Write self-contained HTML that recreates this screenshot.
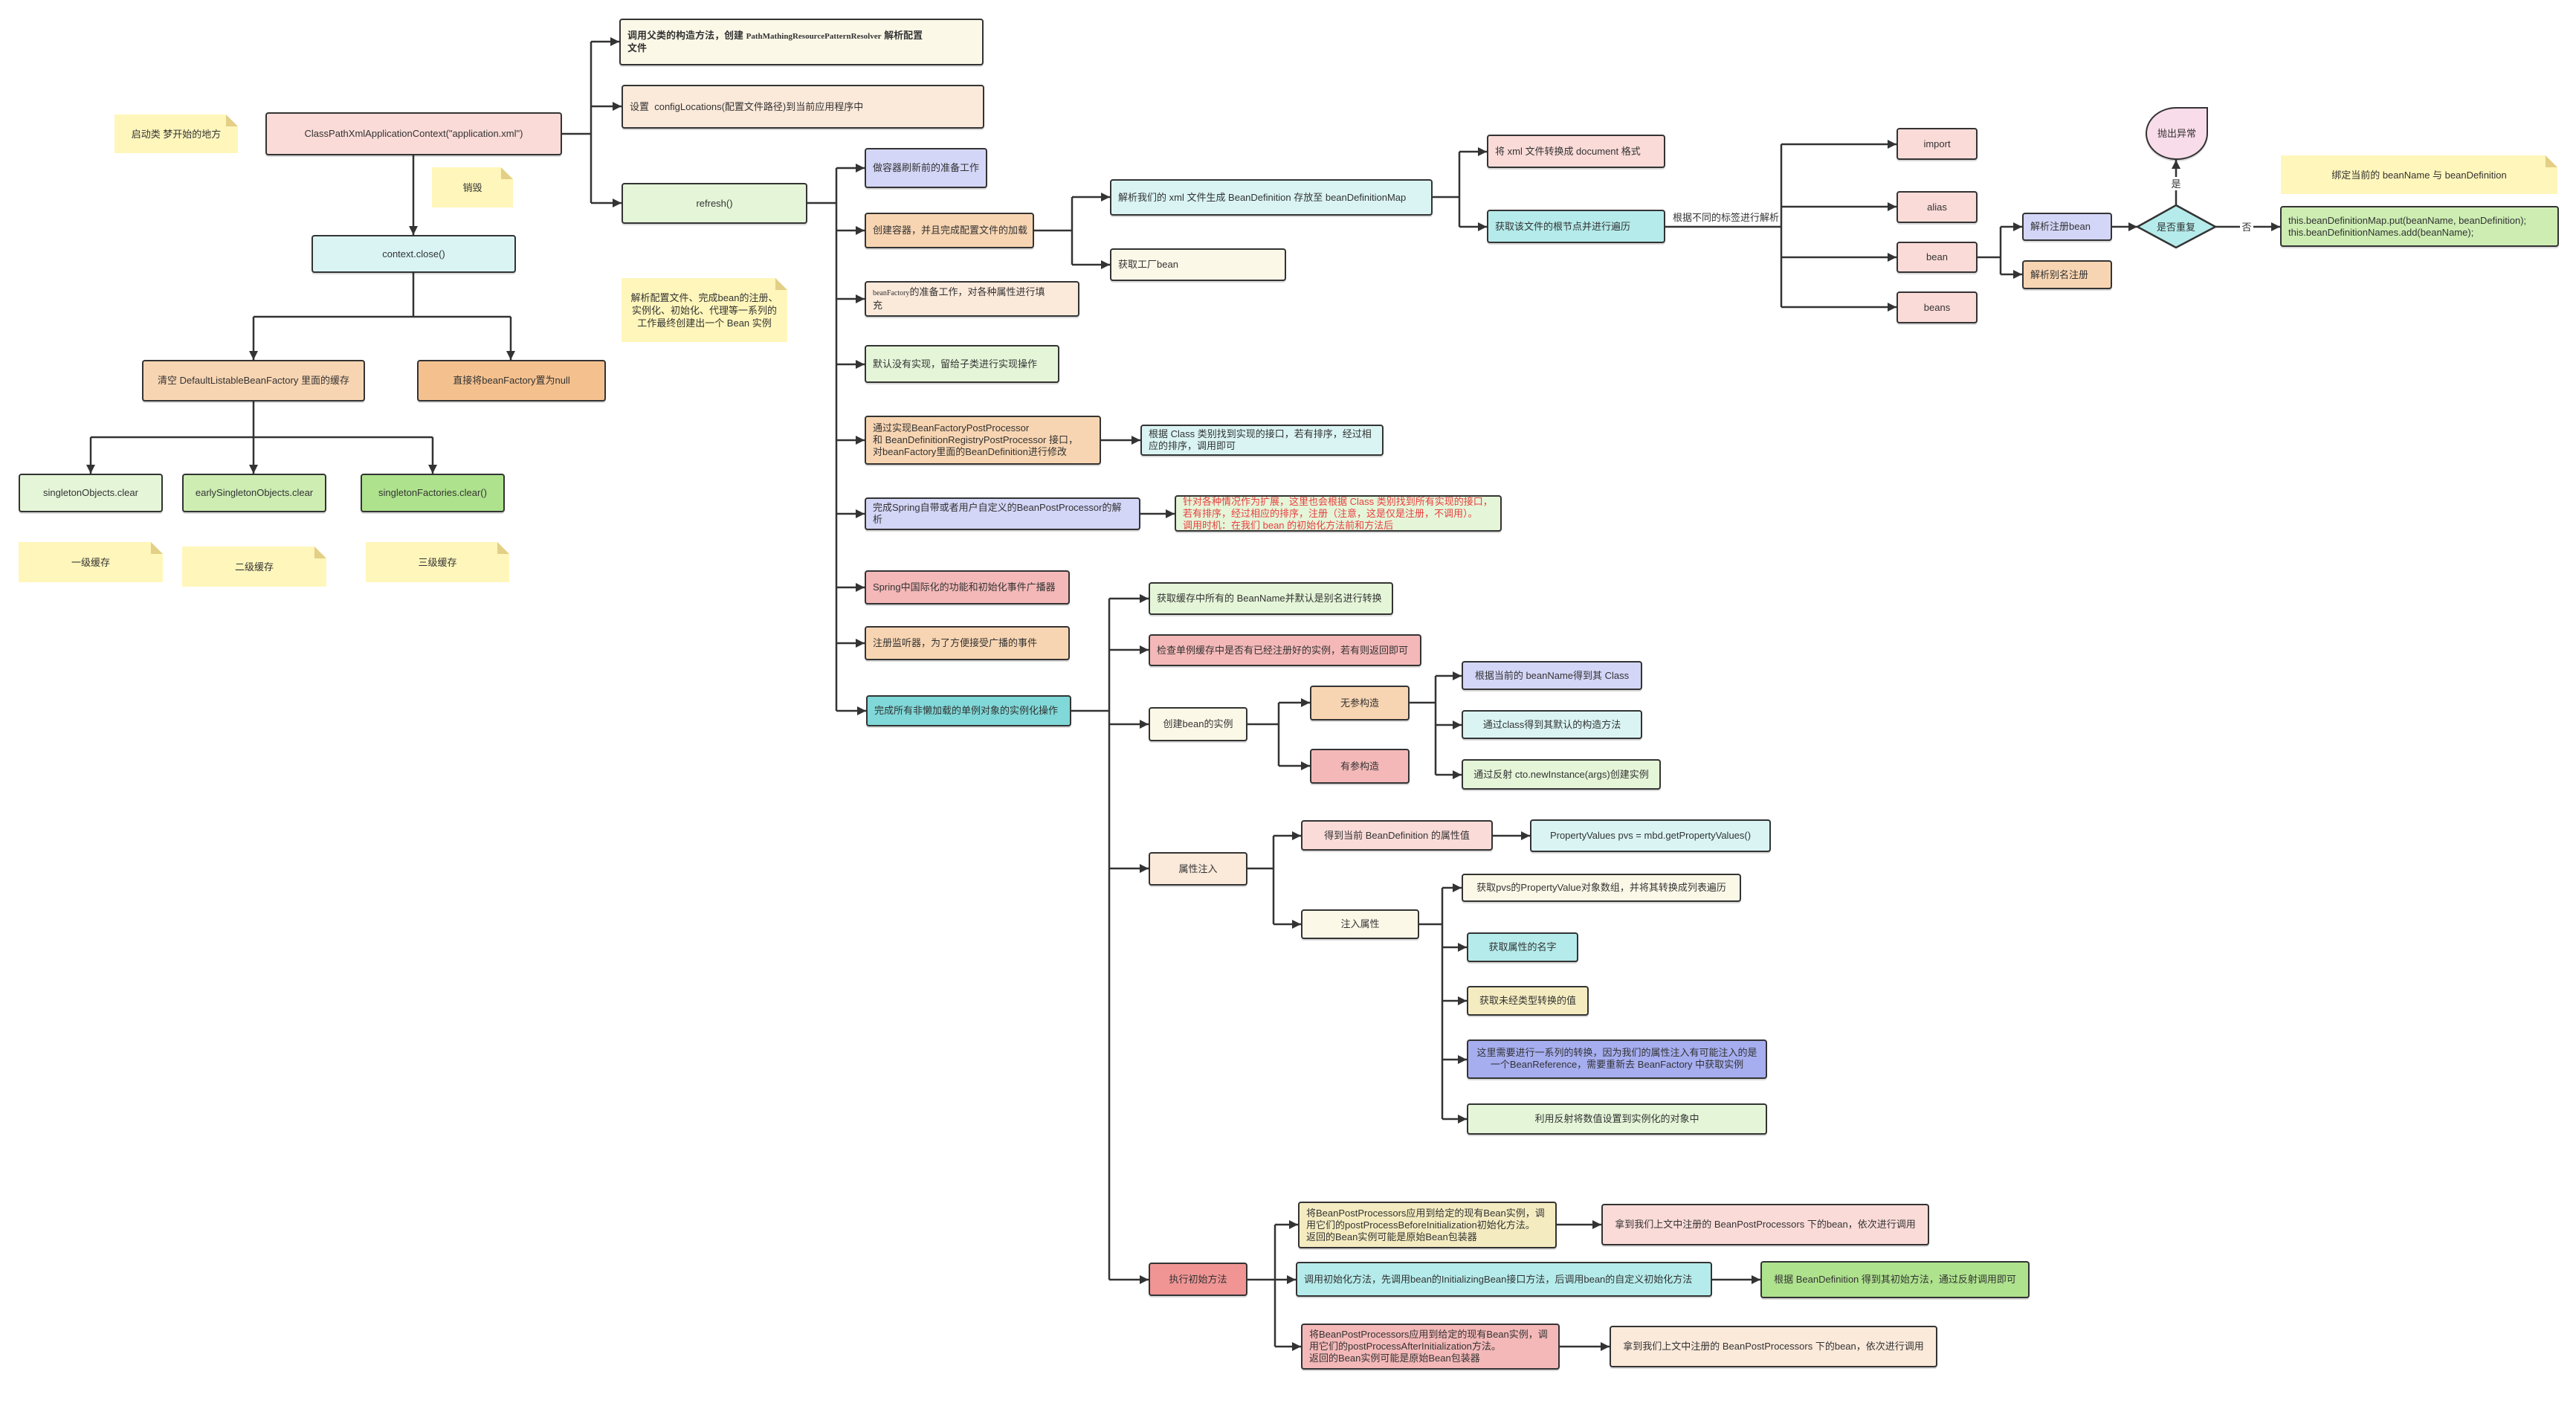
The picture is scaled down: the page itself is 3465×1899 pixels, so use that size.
<!DOCTYPE html>
<html><head><meta charset="utf-8"><style>
body{margin:0;width:3465px;height:1899px;background:#fff;position:relative;overflow:hidden;font-family:"Liberation Sans","Noto Sans CJK SC",sans-serif}
.b{position:absolute;box-sizing:border-box;border:2px solid #333;border-radius:4px;display:flex;align-items:center;font-size:13px;color:#333;padding:0 9px;line-height:16px;box-shadow:0 2px 0 rgba(0,0,0,.15);white-space:nowrap}
.c{justify-content:center;text-align:center}
.n{position:absolute;box-sizing:border-box;background:#fff6bb;display:flex;align-items:center;justify-content:center;text-align:center;font-size:13px;color:#333;line-height:17px}
.n:after{content:"";position:absolute;right:0;top:0;border-style:solid;border-width:0 16px 16px 0;border-color:#fff #fff #e3cf85 #e3cf85}
.t{position:absolute;font-size:13px;color:#333;white-space:nowrap}
svg{position:absolute;left:0;top:0}
</style></head><body>
<svg width="3465" height="1899">
<defs><marker id="a" markerUnits="userSpaceOnUse" markerWidth="14" markerHeight="14" refX="12" refY="7" orient="auto"><path d="M0,1 L12,7 L0,13 Z" fill="#333"/></marker></defs>
<g stroke="#333" stroke-width="2.5" fill="none">
<path d="M756,180H795M795,56V273"/>
<path d="M795,56H833" marker-end="url(#a)"/><path d="M795,143H836" marker-end="url(#a)"/><path d="M795,273H836" marker-end="url(#a)"/>
<path d="M556,209V316" marker-end="url(#a)"/>
<path d="M556,367V426M341,426H687"/><path d="M341,426V484" marker-end="url(#a)"/><path d="M687,426V484" marker-end="url(#a)"/>
<path d="M341,540V588M122,588H582"/><path d="M122,588V637" marker-end="url(#a)"/><path d="M341,588V637" marker-end="url(#a)"/><path d="M582,588V637" marker-end="url(#a)"/>
<path d="M1086,273H1125M1125,226V956"/>
<path d="M1125,226H1163" marker-end="url(#a)"/><path d="M1125,310H1163" marker-end="url(#a)"/><path d="M1125,402H1163" marker-end="url(#a)"/><path d="M1125,490H1163" marker-end="url(#a)"/><path d="M1125,592H1163" marker-end="url(#a)"/><path d="M1125,691H1163" marker-end="url(#a)"/><path d="M1125,790H1163" marker-end="url(#a)"/><path d="M1125,865H1163" marker-end="url(#a)"/><path d="M1125,956H1165" marker-end="url(#a)"/>
<path d="M1391,310H1442M1442,265V356"/><path d="M1442,265H1493" marker-end="url(#a)"/><path d="M1442,356H1493" marker-end="url(#a)"/>
<path d="M1481,592H1534" marker-end="url(#a)"/><path d="M1534,691H1580" marker-end="url(#a)"/>
<path d="M1441,956H1492M1492,805V1721"/>
<path d="M1492,805H1545" marker-end="url(#a)"/><path d="M1492,874H1545" marker-end="url(#a)"/><path d="M1492,974H1545" marker-end="url(#a)"/><path d="M1492,1168H1545" marker-end="url(#a)"/><path d="M1492,1721H1545" marker-end="url(#a)"/>
<path d="M1927,265H1963M1963,204V305"/><path d="M1963,204H2000" marker-end="url(#a)"/><path d="M1963,305H2000" marker-end="url(#a)"/>
<path d="M2240,305H2396M2396,194V413"/><path d="M2396,194H2551" marker-end="url(#a)"/><path d="M2396,278H2551" marker-end="url(#a)"/><path d="M2396,346H2551" marker-end="url(#a)"/><path d="M2396,413H2551" marker-end="url(#a)"/>
<path d="M2660,346H2691M2691,305V369"/><path d="M2691,305H2720" marker-end="url(#a)"/><path d="M2691,369H2720" marker-end="url(#a)"/>
<path d="M2841,305H2875" marker-end="url(#a)"/>
<path d="M2927,276V215" marker-end="url(#a)"/>
<path d="M2980,305H3067" marker-end="url(#a)"/>
<path d="M1678,974H1720M1720,945V1030"/><path d="M1720,945H1762" marker-end="url(#a)"/><path d="M1720,1030H1762" marker-end="url(#a)"/>
<path d="M1896,945H1931M1931,909V1042"/><path d="M1931,909H1966" marker-end="url(#a)"/><path d="M1931,975H1966" marker-end="url(#a)"/><path d="M1931,1042H1966" marker-end="url(#a)"/>
<path d="M1678,1168H1713M1713,1124V1243"/><path d="M1713,1124H1750" marker-end="url(#a)"/><path d="M1713,1243H1750" marker-end="url(#a)"/>
<path d="M2008,1124H2058" marker-end="url(#a)"/>
<path d="M1909,1243H1940M1940,1194V1505"/><path d="M1940,1194H1966" marker-end="url(#a)"/><path d="M1940,1274H1973" marker-end="url(#a)"/><path d="M1940,1346H1973" marker-end="url(#a)"/><path d="M1940,1425H1973" marker-end="url(#a)"/><path d="M1940,1505H1973" marker-end="url(#a)"/>
<path d="M1678,1721H1715M1715,1647V1811"/><path d="M1715,1647H1746" marker-end="url(#a)"/><path d="M1715,1721H1743" marker-end="url(#a)"/><path d="M1715,1811H1750" marker-end="url(#a)"/>
<path d="M2094,1647H2154" marker-end="url(#a)"/><path d="M2303,1721H2368" marker-end="url(#a)"/><path d="M2098,1811H2165" marker-end="url(#a)"/>
</g>
<polygon points="2927,276 2980,305 2927,333 2875,305" fill="#b5ebeb" stroke="#333" stroke-width="2.5"/>
<text x="2927" y="310" font-size="13" text-anchor="middle" fill="#333" font-family="Liberation Sans, Noto Sans CJK SC, sans-serif">是否重复</text>
<rect x="2918" y="238" width="18" height="18" fill="#fff"/>
<text x="2927" y="252" font-size="13" text-anchor="middle" fill="#333" font-family="Liberation Sans, Noto Sans CJK SC, sans-serif">是</text>
<rect x="3013" y="296" width="18" height="18" fill="#fff"/>
<text x="3022" y="310" font-size="13" text-anchor="middle" fill="#333" font-family="Liberation Sans, Noto Sans CJK SC, sans-serif">否</text>
</svg>

<div class="n" style="left:154px;top:154px;width:166px;height:52px">启动类 梦开始的地方</div>
<div class="b c" style="left:357px;top:151px;width:399px;height:58px;background:#fadbd8">ClassPathXmlApplicationContext("application.xml")</div>
<div class="n" style="left:581px;top:225px;width:109px;height:54px">销毁</div>
<div class="b c" style="left:419px;top:316px;width:275px;height:51px;background:#daf4f4">context.close()</div>
<div class="b c" style="left:191px;top:484px;width:300px;height:56px;background:#f8d5b2">清空 DefaultListableBeanFactory 里面的缓存</div>
<div class="b c" style="left:561px;top:484px;width:254px;height:56px;background:#f4c18e">直接将beanFactory置为null</div>
<div class="b c" style="left:25px;top:637px;width:194px;height:52px;background:#e5f5d8">singletonObjects.clear</div>
<div class="b c" style="left:245px;top:637px;width:194px;height:52px;background:#cdedb3">earlySingletonObjects.clear</div>
<div class="b c" style="left:485px;top:637px;width:194px;height:52px;background:#aee28d">singletonFactories.clear()</div>
<div class="n" style="left:25px;top:729px;width:194px;height:54px">一级缓存</div>
<div class="n" style="left:245px;top:735px;width:194px;height:54px">二级缓存</div>
<div class="n" style="left:492px;top:729px;width:193px;height:54px">三级缓存</div>

<div class="b" style="left:833px;top:25px;width:490px;height:63px;background:#fcf8e8;font-weight:bold"><span>调用父类的构造方法，创建 <span style="font-family:'Liberation Serif',serif;font-size:11px">PathMathingResourcePatternResolver</span> 解析配置<br>文件</span></div>
<div class="b" style="left:836px;top:114px;width:488px;height:59px;background:#fbe9da">设置 &nbsp;configLocations(配置文件路径)到当前应用程序中</div>
<div class="b c" style="left:836px;top:246px;width:250px;height:55px;background:#e5f5d8">refresh()</div>
<div class="n" style="left:836px;top:374px;width:223px;height:86px">解析配置文件、完成bean的注册、<br>实例化、初始化、代理等一系列的<br>工作最终创建出一个 Bean 实例</div>

<div class="b" style="left:1163px;top:199px;width:165px;height:54px;background:#d4d6f8">做容器刷新前的准备工作</div>
<div class="b" style="left:1163px;top:286px;width:228px;height:48px;background:#f8d5b2">创建容器，并且完成配置文件的加载</div>
<div class="b" style="left:1163px;top:378px;width:289px;height:48px;background:#fbe9da"><span><span style="font-family:'Liberation Serif',serif;font-size:10px">beanFactory</span>的准备工作，对各种属性进行填<br>充</span></div>
<div class="b" style="left:1163px;top:464px;width:262px;height:51px;background:#e5f5d8">默认没有实现，留给子类进行实现操作</div>
<div class="b" style="left:1163px;top:559px;width:318px;height:66px;background:#f8d5b2"><span>通过实现BeanFactoryPostProcessor<br>和 BeanDefinitionRegistryPostProcessor 接口，<br>对beanFactory里面的BeanDefinition进行修改</span></div>
<div class="b" style="left:1163px;top:669px;width:371px;height:44px;background:#d4d6f8"><span>完成Spring自带或者用户自定义的BeanPostProcessor的解<br>析</span></div>
<div class="b" style="left:1163px;top:767px;width:276px;height:46px;background:#f4b8b8">Spring中国际化的功能和初始化事件广播器</div>
<div class="b" style="left:1163px;top:842px;width:276px;height:46px;background:#f8d5b2">注册监听器，为了方便接受广播的事件</div>
<div class="b" style="left:1165px;top:935px;width:276px;height:42px;background:#80d8d8">完成所有非懒加载的单例对象的实例化操作</div>

<div class="b" style="left:1493px;top:241px;width:434px;height:49px;background:#daf4f4">解析我们的 xml 文件生成 BeanDefinition 存放至 beanDefinitionMap</div>
<div class="b" style="left:1493px;top:334px;width:237px;height:44px;background:#fcf8e8">获取工厂bean</div>
<div class="b" style="left:1534px;top:571px;width:327px;height:42px;background:#daf4f4"><span>根据 Class 类别找到实现的接口，若有排序，经过相<br>应的排序，调用即可</span></div>
<div class="b" style="left:1580px;top:666px;width:440px;height:49px;background:#e5f5d8;color:#e84040"><span>针对各种情况作为扩展，这里也会根据 Class 类别找到所有实现的接口，<br>若有排序，经过相应的排序，注册（注意，这是仅是注册，不调用）。<br>调用时机：在我们 bean 的初始化方法前和方法后</span></div>

<div class="b" style="left:2000px;top:181px;width:240px;height:45px;background:#fadbd8">将 xml 文件转换成 document 格式</div>
<div class="b" style="left:2000px;top:282px;width:240px;height:45px;background:#b5ebeb">获取该文件的根节点并进行遍历</div>
<div class="t" style="left:2250px;top:282px">根据不同的标签进行解析</div>
<div class="b c" style="left:2551px;top:172px;width:109px;height:43px;background:#fadbd8">import</div>
<div class="b c" style="left:2551px;top:257px;width:109px;height:43px;background:#fadbd8">alias</div>
<div class="b c" style="left:2551px;top:325px;width:109px;height:42px;background:#fadbd8">bean</div>
<div class="b c" style="left:2551px;top:392px;width:109px;height:43px;background:#fadbd8">beans</div>
<div class="b" style="left:2720px;top:286px;width:121px;height:38px;background:#d4d6f8">解析注册bean</div>
<div class="b" style="left:2720px;top:350px;width:121px;height:39px;background:#f8d5b2">解析别名注册</div>
<div class="b c" style="left:2886px;top:144px;width:84px;height:71px;background:#f9dcea;border-radius:42px 0 42px 42px/36px 0 36px 36px;padding:0">抛出异常</div>
<div class="n" style="left:3068px;top:209px;width:372px;height:52px">绑定当前的 beanName 与 beanDefinition</div>
<div class="b" style="left:3067px;top:277px;width:375px;height:55px;background:#cdedb3"><span>this.beanDefinitionMap.put(beanName, beanDefinition);<br>this.beanDefinitionNames.add(beanName);</span></div>

<div class="b" style="left:1545px;top:783px;width:329px;height:44px;background:#e5f5d8">获取缓存中所有的 BeanName并默认是别名进行转换</div>
<div class="b" style="left:1545px;top:853px;width:367px;height:43px;background:#f4b8b8">检查单例缓存中是否有已经注册好的实例，若有则返回即可</div>
<div class="b c" style="left:1545px;top:951px;width:133px;height:46px;background:#fcf8e8">创建bean的实例</div>
<div class="b c" style="left:1762px;top:922px;width:134px;height:47px;background:#f8d5b2">无参构造</div>
<div class="b c" style="left:1762px;top:1007px;width:134px;height:47px;background:#f4b8b8">有参构造</div>
<div class="b c" style="left:1966px;top:889px;width:243px;height:39px;background:#d4d6f8">根据当前的 beanName得到其 Class</div>
<div class="b c" style="left:1966px;top:955px;width:243px;height:39px;background:#daf4f4">通过class得到其默认的构造方法</div>
<div class="b c" style="left:1966px;top:1021px;width:268px;height:41px;background:#e5f5d8">通过反射 cto.newInstance(args)创建实例</div>
<div class="b c" style="left:1545px;top:1146px;width:133px;height:45px;background:#fbe9da">属性注入</div>
<div class="b c" style="left:1750px;top:1103px;width:258px;height:41px;background:#fadbd8">得到当前 BeanDefinition 的属性值</div>
<div class="b c" style="left:2058px;top:1102px;width:324px;height:44px;background:#daf4f4">PropertyValues pvs = mbd.getPropertyValues()</div>
<div class="b c" style="left:1750px;top:1223px;width:159px;height:40px;background:#fcf8e8">注入属性</div>
<div class="b c" style="left:1966px;top:1175px;width:376px;height:38px;background:#fcf8e8">获取pvs的PropertyValue对象数组，并将其转换成列表遍历</div>
<div class="b c" style="left:1973px;top:1254px;width:150px;height:40px;background:#b5ebeb">获取属性的名字</div>
<div class="b c" style="left:1973px;top:1326px;width:164px;height:40px;background:#f4ecc0">获取未经类型转换的值</div>
<div class="b c" style="left:1973px;top:1398px;width:404px;height:53px;background:#a6aef0;align-items:flex-start;padding-top:8px"><span>这里需要进行一系列的转换，因为我们的属性注入有可能注入的是<br>一个BeanReference，需要重新去 BeanFactory 中获取实例</span></div>
<div class="b c" style="left:1973px;top:1484px;width:404px;height:42px;background:#e5f5d8">利用反射将数值设置到实例化的对象中</div>

<div class="b c" style="left:1545px;top:1698px;width:133px;height:45px;background:#f09494">执行初始方法</div>
<div class="b" style="left:1746px;top:1616px;width:348px;height:63px;background:#f4ecc0"><span>将BeanPostProcessors应用到给定的现有Bean实例，调<br>用它们的postProcessBeforeInitialization初始化方法。<br>返回的Bean实例可能是原始Bean包装器</span></div>
<div class="b c" style="left:2154px;top:1619px;width:441px;height:56px;background:#fadbd8">拿到我们上文中注册的 BeanPostProcessors 下的bean，依次进行调用</div>
<div class="b" style="left:1743px;top:1697px;width:560px;height:47px;background:#b5ebeb">调用初始化方法，先调用bean的InitializingBean接口方法，后调用bean的自定义初始化方法</div>
<div class="b c" style="left:2368px;top:1696px;width:362px;height:50px;background:#aee28d">根据 BeanDefinition 得到其初始方法，通过反射调用即可</div>
<div class="b" style="left:1750px;top:1780px;width:348px;height:62px;background:#f4b8b8"><span>将BeanPostProcessors应用到给定的现有Bean实例，调<br>用它们的postProcessAfterInitialization方法。<br>返回的Bean实例可能是原始Bean包装器</span></div>
<div class="b c" style="left:2165px;top:1783px;width:441px;height:56px;background:#fbe9da">拿到我们上文中注册的 BeanPostProcessors 下的bean，依次进行调用</div>
</body></html>
